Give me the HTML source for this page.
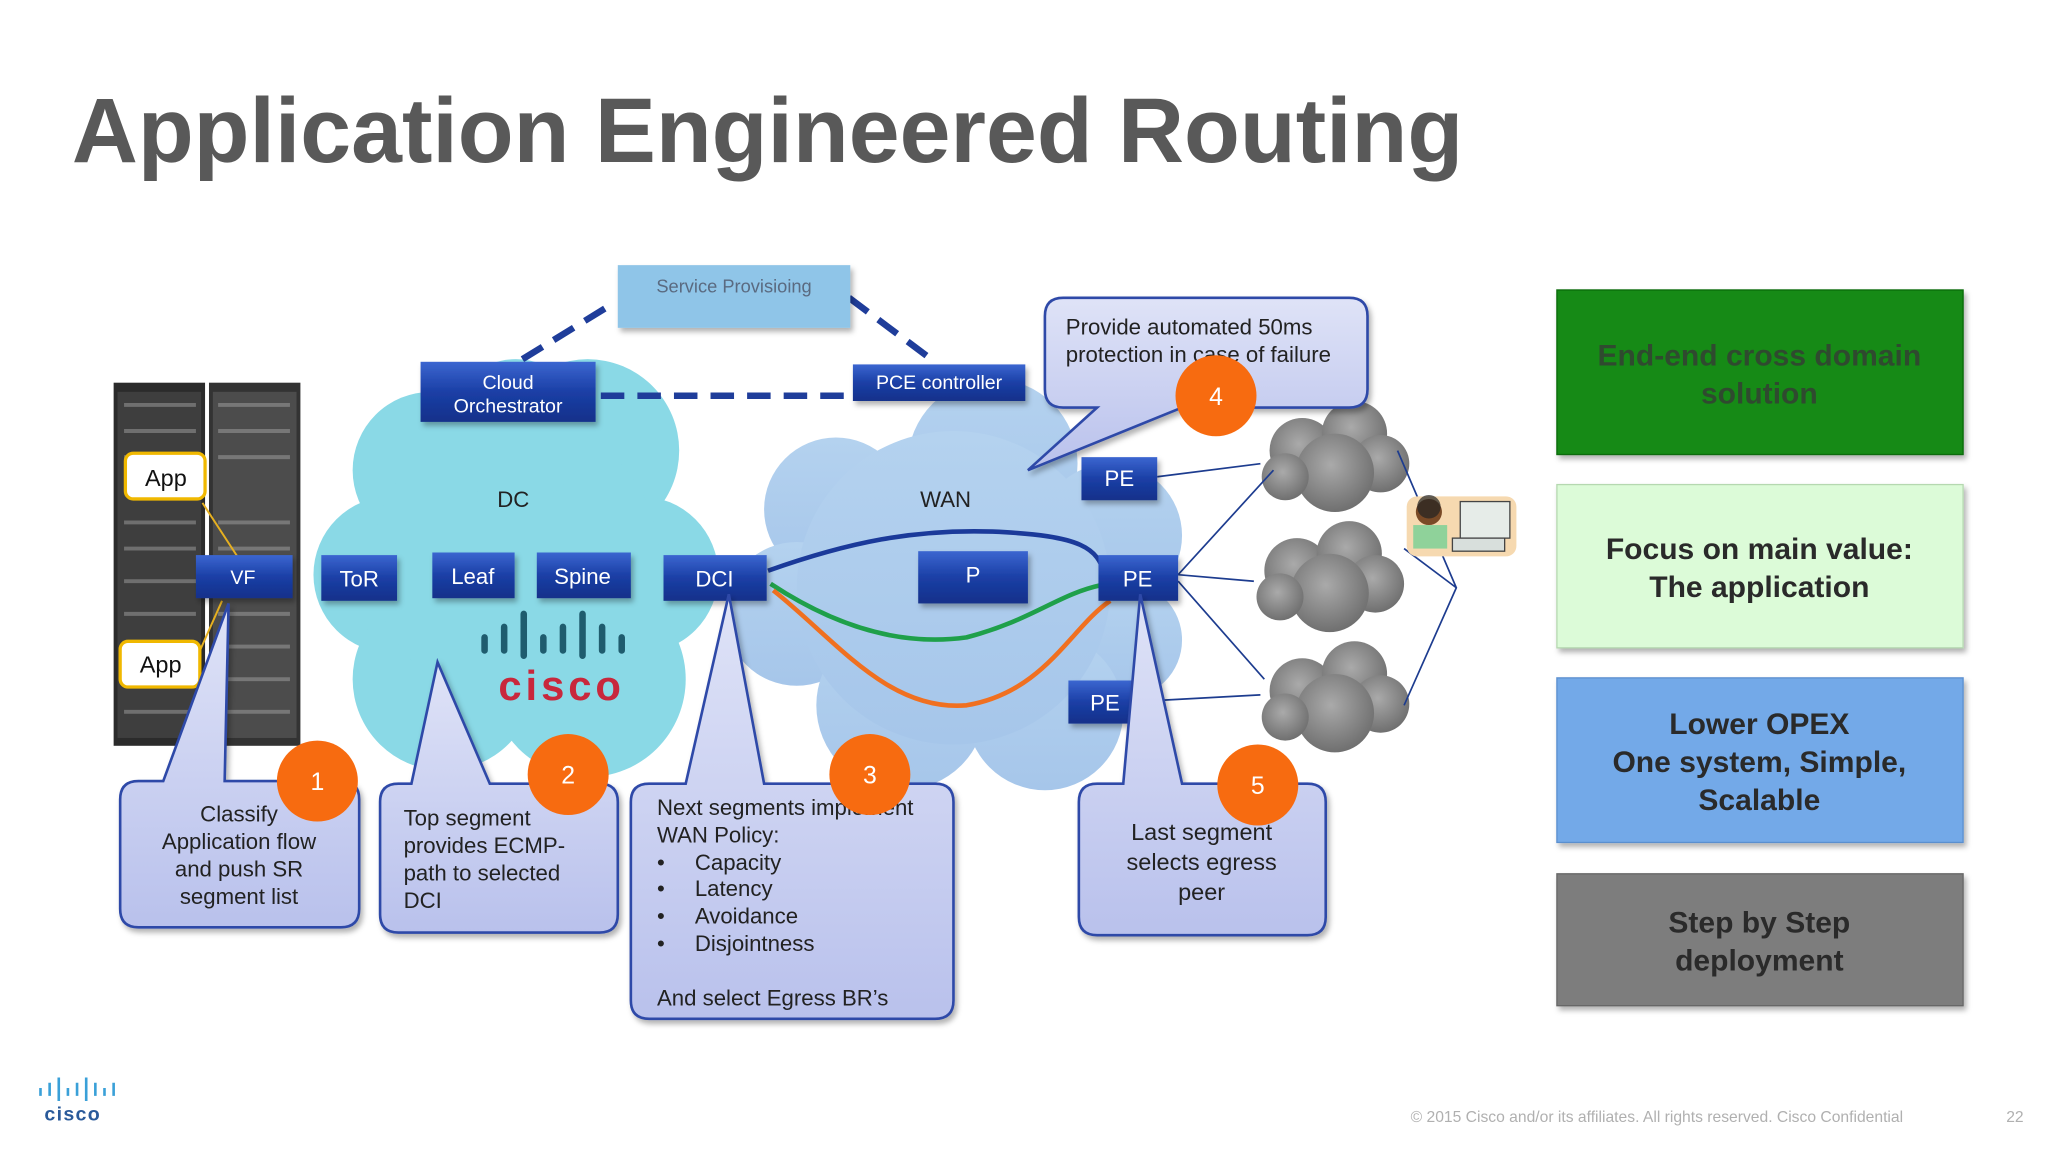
<!DOCTYPE html>
<html><head><meta charset="utf-8"><style>
html,body{margin:0;padding:0;background:#fff;}
svg{display:block;font-family:"Liberation Sans",Arial,sans-serif;}
</style></head><body>
<svg width="2048" height="1152" viewBox="0 0 1568 882" xmlns="http://www.w3.org/2000/svg">
<defs>
<linearGradient id="bb" x1="0" y1="0" x2="0" y2="1"><stop offset="0" stop-color="#3b66d0"/><stop offset="0.5" stop-color="#1b3fa6"/><stop offset="1" stop-color="#12308a"/></linearGradient>
<linearGradient id="co" x1="0" y1="0" x2="0" y2="1"><stop offset="0" stop-color="#dfe3f7"/><stop offset="1" stop-color="#b9c1ec"/></linearGradient>
<linearGradient id="wan" x1="0" y1="0" x2="0" y2="1"><stop offset="0" stop-color="#b4d2ef"/><stop offset="1" stop-color="#a6c6ea"/></linearGradient>
<radialGradient id="gc" cx="0.45" cy="0.4" r="0.7"><stop offset="0" stop-color="#aaa"/><stop offset="1" stop-color="#666"/></radialGradient>
<filter id="sh" x="-10%" y="-10%" width="130%" height="130%"><feDropShadow dx="2" dy="3" stdDeviation="2" flood-color="#000" flood-opacity="0.3"/></filter>
</defs>

<text x="55" y="124" font-size="70" font-weight="bold" fill="#595959">Application Engineered Routing</text>

<!-- racks -->
<rect x="87" y="293" width="70" height="278" fill="#2b2b2b"/>
<rect x="160" y="293" width="70" height="278" fill="#333"/>
<g stroke="#8a8a8a" stroke-width="3" opacity="0.7">
<path d="M95 310H150M95 330H150M95 350H150M95 400H150M95 420H150M95 445H150M95 470H150M95 495H150M95 520H150M95 545H150"/>
<path d="M167 310H222M167 330H222M167 350H222M167 400H222M167 420H222M167 445H222M167 470H222M167 495H222M167 520H222M167 545H222"/>
</g>
<rect x="90" y="300" width="64" height="265" fill="#777" opacity="0.25"/>
<rect x="163" y="300" width="64" height="265" fill="#888" opacity="0.3"/>

<!-- DC cloud -->
<g fill="#8ad9e6">
<circle cx="330" cy="360" r="60"/><circle cx="450" cy="345" r="70"/><circle cx="300" cy="440" r="60"/>
<circle cx="490" cy="440" r="60"/><circle cx="340" cy="520" r="70"/><circle cx="450" cy="520" r="75"/>
<circle cx="395" cy="430" r="110"/><circle cx="395" cy="330" r="55"/>
</g>
<!-- WAN cloud -->
<g fill="url(#wan)">
<circle cx="640" cy="390" r="55"/><circle cx="760" cy="355" r="65"/><circle cx="850" cy="410" r="55"/>
<circle cx="610" cy="470" r="55"/><circle cx="860" cy="490" r="45"/><circle cx="690" cy="540" r="65"/>
<circle cx="800" cy="545" r="60"/><circle cx="730" cy="450" r="120"/>
</g>
<text x="393" y="388" font-size="17" text-anchor="middle" fill="#222">DC</text>
<text x="724" y="388" font-size="17" text-anchor="middle" fill="#222">WAN</text>

<!-- cisco logo in DC -->
<g stroke="#1f5c6e" stroke-width="5" stroke-linecap="round">
<path d="M371 488v10M386 480v18M401 470v32M416 488v10M431 480v18M446 470v32M461 480v18M476 488v10"/>
</g>
<text x="430" y="536" font-size="32" font-weight="bold" fill="#c8283c" text-anchor="middle" letter-spacing="3">cisco</text>

<!-- gray clouds -->
<g fill="url(#gc)">
<g transform="translate(1022,350)"><circle cx="-25" cy="-5" r="25"/><circle cx="15" cy="-18" r="25"/><circle cx="35" cy="5" r="22"/><circle cx="0" cy="12" r="30"/><circle cx="-38" cy="15" r="18"/></g>
<g transform="translate(1018,442)"><circle cx="-25" cy="-5" r="25"/><circle cx="15" cy="-18" r="25"/><circle cx="35" cy="5" r="22"/><circle cx="0" cy="12" r="30"/><circle cx="-38" cy="15" r="18"/></g>
<g transform="translate(1022,534)"><circle cx="-25" cy="-5" r="25"/><circle cx="15" cy="-18" r="25"/><circle cx="35" cy="5" r="22"/><circle cx="0" cy="12" r="30"/><circle cx="-38" cy="15" r="18"/></g>
</g>

<!-- connection lines -->
<g stroke="#1d3c8f" stroke-width="1.3" fill="none">
<path d="M886 365L965 355M902 440L975 360M902 440L960 445M902 445L968 520M873 537L965 532"/>
<path d="M1070 345L1115 450L1075 540M1075 420L1115 450"/>
</g>
<!-- person -->
<rect x="1077" y="380" width="84" height="46" rx="8" fill="#f6d9b0"/>
<circle cx="1094" cy="392" r="10" fill="#7a4a26"/><circle cx="1094" cy="388" r="9" fill="#222" opacity="0.7"/>
<rect x="1082" y="402" width="26" height="18" fill="#8fd29a"/>
<rect x="1118" y="384" width="38" height="28" fill="#e6ece8" stroke="#444"/>
<rect x="1112" y="412" width="40" height="10" fill="#d8dfdc" stroke="#444"/>

<!-- dashed lines -->
<g stroke="#1f3d9a" stroke-width="5" stroke-dasharray="18,10" fill="none">
<path d="M400 275L470 232M650 228L713 275M460 303H652"/>
</g>

<!-- paths in WAN -->
<path d="M588 437C650 415 700 405 760 407C830 410 840 420 846 440" stroke="#1b3a9a" stroke-width="3.5" fill="none"/>
<path d="M590 447C640 480 690 495 740 488C790 475 810 455 843 448" stroke="#1fa04a" stroke-width="3.5" fill="none"/>
<path d="M592 452C640 490 680 545 740 540C800 530 820 480 850 460" stroke="#f07020" stroke-width="3.5" fill="none"/>

<!-- App boxes & yellow lines -->
<path d="M155 385L183 428M170 460L150 505" stroke="#e6b020" stroke-width="1.5"/>
<rect x="96" y="347" width="61" height="35" rx="6" fill="#fff" stroke="#f0b800" stroke-width="2.5"/>
<text x="127" y="372" font-size="18" text-anchor="middle" fill="#111">App</text>
<rect x="92" y="491" width="61" height="35" rx="6" fill="#fff" stroke="#f0b800" stroke-width="2.5"/>
<text x="123" y="515" font-size="18" text-anchor="middle" fill="#111">App</text>

<!-- blue boxes -->
<g filter="url(#sh)">
<rect x="473" y="203" width="178" height="48" fill="#8fc5e8"/>
<rect x="322" y="277" width="134" height="46" fill="url(#bb)"/>
<rect x="653" y="279" width="132" height="28" fill="url(#bb)"/>
<rect x="150" y="425" width="74" height="33" fill="url(#bb)"/>
<rect x="246" y="425" width="58" height="35" fill="url(#bb)"/>
<rect x="331" y="423" width="63" height="35" fill="url(#bb)"/>
<rect x="411" y="423" width="72" height="35" fill="url(#bb)"/>
<rect x="508" y="425" width="79" height="35" fill="url(#bb)"/>
<rect x="703" y="422" width="84" height="40" fill="url(#bb)"/>
<rect x="828" y="350" width="58" height="33" fill="url(#bb)"/>
<rect x="841" y="425" width="61" height="35" fill="url(#bb)"/>
<rect x="818" y="521" width="55" height="33" fill="url(#bb)"/>
</g>
<g fill="#fff" text-anchor="middle" font-size="15">
<text x="562" y="224" fill="#5a6a80" font-size="14">Service Provisioing</text>
<text x="389" y="298">Cloud</text><text x="389" y="316">Orchestrator</text>
<text x="719" y="298">PCE controller</text>
<text x="186" y="447">VF</text>
<text x="275" y="449" font-size="17">ToR</text>
<text x="362" y="447" font-size="17">Leaf</text>
<text x="446" y="447" font-size="17">Spine</text>
<text x="547" y="449" font-size="17">DCI</text>
<text x="745" y="446" font-size="17">P</text>
<text x="857" y="372" font-size="17">PE</text>
<text x="871" y="449" font-size="17">PE</text>
<text x="846" y="544" font-size="17">PE</text>
</g>

<!-- callouts -->
<g fill="url(#co)" stroke="#2f4aa8" stroke-width="2" filter="url(#sh)">
<path d="M106,598 L125,598 L175,462 L172,598 L261,598 Q275,598 275,612 L275,696 Q275,710 261,710 L106,710 Q92,710 92,696 L92,612 Q92,598 106,598 Z"/>
<path d="M305,600 L315,600 L335,507 L375,600 L459,600 Q473,600 473,614 L473,700 Q473,714 459,714 L305,714 Q291,714 291,700 L291,614 Q291,600 305,600Z"/>
<path d="M497,600 L525,600 L558,455 L585,600 L716,600 Q730,600 730,614 L730,766 Q730,780 716,780 L497,780 Q483,780 483,766 L483,614 Q483,600 497,600Z"/>
<path d="M840,600 L860,600 L873,455 L905,600 L1001,600 Q1015,600 1015,614 L1015,702 Q1015,716 1001,716 L840,716 Q826,716 826,702 L826,614 Q826,600 840,600Z"/>
<path d="M814,228 L1033,228 Q1047,228 1047,242 L1047,298 Q1047,312 1033,312 L905,312 L787,360 L840,312 L814,312 Q800,312 800,298 L800,242 Q800,228 814,228Z"/>
</g>
<g font-size="17" fill="#222">
<g text-anchor="middle"><text x="183" y="629">Classify</text><text x="183" y="650">Application flow</text><text x="183" y="671">and push SR</text><text x="183" y="692">segment list</text></g>
<text x="309" y="632">Top segment</text><text x="309" y="653">provides ECMP-</text><text x="309" y="674">path to selected</text><text x="309" y="695">DCI</text>
<text x="503" y="624">Next segments implement</text><text x="503" y="645">WAN Policy:</text>
<text x="503" y="666">•</text><text x="532" y="666">Capacity</text>
<text x="503" y="686">•</text><text x="532" y="686">Latency</text>
<text x="503" y="707">•</text><text x="532" y="707">Avoidance</text>
<text x="503" y="728">•</text><text x="532" y="728">Disjointness</text>
<text x="503" y="770">And select Egress BR’s</text>
<g text-anchor="middle" font-size="18"><text x="920" y="643">Last segment</text><text x="920" y="666">selects egress</text><text x="920" y="689">peer</text></g>
<text x="816" y="256">Provide automated 50ms</text><text x="816" y="277">protection in case of failure</text>
</g>

<!-- orange circles -->
<g fill="#f76b10">
<circle cx="243" cy="598" r="31"/><circle cx="435" cy="593" r="31"/><circle cx="666" cy="593" r="31"/><circle cx="931" cy="303" r="31"/><circle cx="963" cy="601" r="31"/>
</g>
<g fill="#fff" font-size="19" text-anchor="middle">
<text x="243" y="605">1</text><text x="435" y="600">2</text><text x="666" y="600">3</text><text x="931" y="310">4</text><text x="963" y="608">5</text>
</g>

<!-- right boxes -->
<g filter="url(#sh)">
<rect x="1192" y="222" width="311" height="126" fill="#128a12" stroke="#0a6a0a"/>
<rect x="1192" y="371" width="311" height="125" fill="#dcfbd8" stroke="#b5d8b0"/>
<rect x="1192" y="519" width="311" height="126" fill="#73a9e8" stroke="#5a8fcf"/>
<rect x="1192" y="669" width="311" height="101" fill="#7d7d7d" stroke="#666"/>
</g>
<g font-size="23" font-weight="bold" text-anchor="middle" fill="#2a2a2a">
<text x="1347" y="280" fill="#2f4a2f">End-end cross domain</text><text x="1347" y="309" fill="#2f4a2f">solution</text>
<text x="1347" y="428">Focus on main value:</text><text x="1347" y="457">The application</text>
<text x="1347" y="562">Lower OPEX</text><text x="1347" y="591">One system, Simple,</text><text x="1347" y="620">Scalable</text>
<text x="1347" y="714">Step by Step</text><text x="1347" y="743">deployment</text>
</g>

<!-- footer -->
<g stroke="#3aa0d8" stroke-width="2">
<path d="M31 833v6M38 829v10M45 825v18M52 833v6M59 829v10M66 825v18M73 829v10M80 833v6M87 829v10"/>
</g>
<text x="34" y="858" font-size="15" font-weight="bold" fill="#2a5a9a" letter-spacing="1">cisco</text>
<text x="1080" y="859" font-size="12" fill="#b0b0b0">© 2015  Cisco and/or its affiliates. All rights reserved.   Cisco Confidential</text>
<text x="1536" y="859" font-size="12" fill="#b0b0b0">22</text>
</svg>
</body></html>
